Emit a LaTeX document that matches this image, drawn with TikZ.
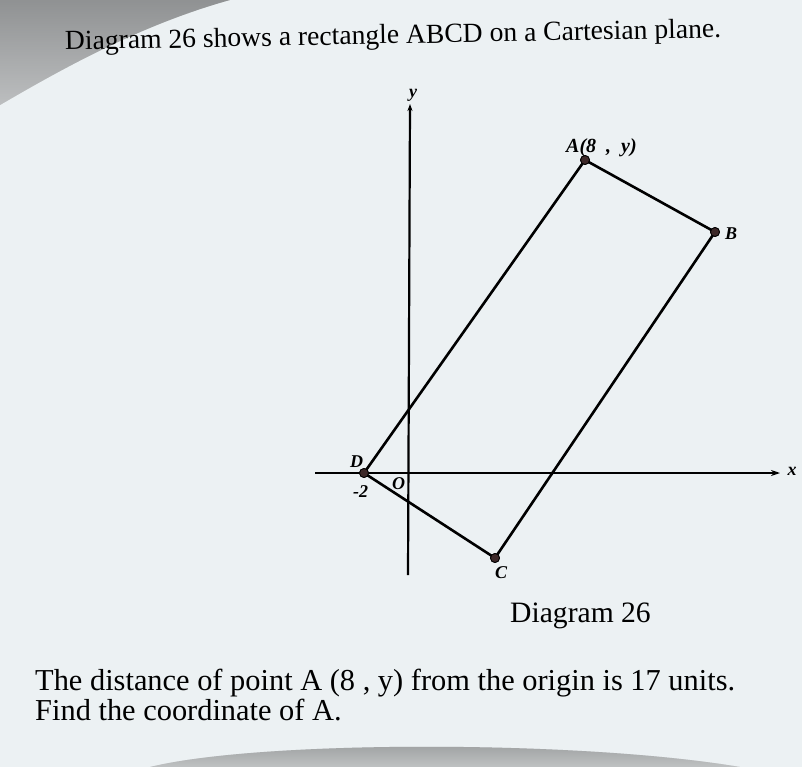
\documentclass[tikz,border=0pt]{standalone}
\usepackage{fontspec}
\setmainfont{Liberation Serif}
\usetikzlibrary{arrows.meta}
\definecolor{bg}{RGB}{236,241,243}
\definecolor{ptcol}{RGB}{60,40,40}
\definecolor{shade}{RGB}{160,160,162}
\begin{document}
\begin{tikzpicture}[x=1pt,y=-1pt,
  dot/.style={circle,fill=ptcol,draw=black,line width=0.8pt,inner sep=0pt,minimum size=9pt},
  edge/.style={line width=2.6pt,black,line join=round},
  axis/.style={line width=2.2pt,black},
  lbl/.style={inner sep=0pt,font=\fontsize{18}{20}\selectfont\itshape\bfseries},
  txt/.style={inner sep=0pt,anchor=base west}]
\useasboundingbox (0,0) rectangle (802,767);
\fill[bg] (0,0) rectangle (802,767);
% photo shading
\fill[shade,opacity=0.35] (0,0) -- (230,0) .. controls (140,25) and (60,70) .. (0,105) -- cycle;
\fill[shade,opacity=0.3] (150,767) .. controls (260,740) and (580,740) .. (740,767) -- cycle;
% title
\node[txt,rotate=1.1] (title) at (65,50) {\fontsize{27.6}{32}\selectfont Diagram 26 shows a rectangle ABCD on a Cartesian plane.};
% axes
\coordinate (xl) at (315,473);
\coordinate (xr) at (780,473);
\coordinate (yb) at (408,575);
\coordinate (yt) at (410,104);
\draw[axis,-{Stealth[length=9pt,width=6pt]}] (xl) -- (xr);
\draw[axis,-{Stealth[length=7pt,width=5pt]}] (yb) -- (yt);
\node[lbl] (xlab) at (792,471) {x};
\node[lbl] (ylab) at (413,95) {y};
% rectangle
\node[dot] (A) at (585,160) {};
\node[dot] (B) at (715,232) {};
\node[dot] (C) at (495,558) {};
\node[dot] (D) at (364,473) {};
\draw[edge] (A.center) -- (B.center) -- (C.center) -- (D.center) -- cycle;
\node[dot] at (A) {};
\node[dot] at (B) {};
\node[dot] at (C) {};
\node[dot] at (D) {};
% labels
\node[lbl,anchor=base west,font=\fontsize{20}{22}\selectfont\itshape\bfseries] (Alab) at (566,153) {A(8\enspace,\enspace y)};
\node[lbl,anchor=base west] (Blab) at (725,240) {B};
\node[lbl,anchor=base west] (Clab) at (495,578) {C};
\node[lbl,anchor=base west] (Dlab) at (350,467) {D};
\node[lbl,anchor=base west] (m2) at (353,497) {-2};
\node[lbl,anchor=base west] (Olab) at (392,489) {O};
% caption
\node[txt] (cap) at (510,622) {\fontsize{29.6}{34}\selectfont Diagram 26};
\node[txt] (q1) at (35,690) {\fontsize{30.4}{34}\selectfont The distance of point A (8 , y) from the origin is 17 units.};
\node[txt] (q2) at (35,720) {\fontsize{30.4}{34}\selectfont Find the coordinate of A.};
\end{tikzpicture}
\end{document}
